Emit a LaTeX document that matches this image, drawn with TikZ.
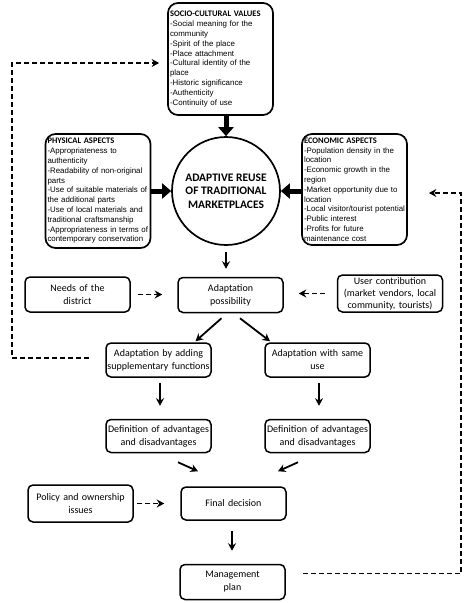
\documentclass[tikz,border=0pt]{standalone}
\usepackage{fontspec}
\setmainfont{Carlito}
\newfontfamily\listfont{Liberation Sans}
\usetikzlibrary{arrows.meta,positioning}
\newcommand\boxhead[1]{{\rmfamily\bfseries\fontsize{8.5}{9.8}\selectfont #1}}

\begin{document}
\begin{tikzpicture}[x=1pt,y=-1pt,
  bigbox/.style={draw,line width=1.7pt,rounded corners=10pt,minimum width=105pt,inner sep=2pt,text width=101pt,align=left,font=\listfont\fontsize{7.9}{9.8}\selectfont},
  stepbox/.style={draw,line width=1.5pt,rounded corners=5pt,minimum width=105pt,minimum height=35pt,inner sep=1pt,text width=103pt,align=center,font=\fontsize{10}{13}\selectfont},
  blockarr/.style={line width=5pt,-{Triangle[length=9pt,width=15pt]}},
  arr/.style={line width=1.8pt,-{Stealth[length=7.5pt,width=8pt]}},
  dasharr/.style={arr,dash pattern=on 5pt off 3pt}]
\useasboundingbox (0,0) rectangle (474,603);
\node[bigbox,minimum height=112pt] (socio) at (220.5,59) {\boxhead{SOCIO-CULTURAL VALUES}\\-Social meaning for the\\community\\-Spirit of the place\\-Place attachment\\-Cultural identity of the\\place\\-Historic significance\\-Authenticity\\-Continuity of use};
\node[bigbox,minimum height=114pt] (phys) at (98,191) {\boxhead{PHYSICAL ASPECTS}\\-Appropriateness to\\authenticity\\-Readability of non-original\\parts\\-Use of suitable materials of\\the additional parts\\-Use of local materials and\\traditional craftsmanship\\-Appropriateness in terms of\\contemporary conservation};
\node[bigbox,minimum height=111pt] (econ) at (354.5,189.5) {\boxhead{ECONOMIC ASPECTS}\\-Population density in the\\location\\-Economic growth in the\\region\\-Market opportunity due to\\location\\-Local visitor/tourist potential\\-Public interest\\-Profits for future\\maintenance cost};
\node[circle,draw,line width=1.7pt,minimum size=108pt,align=center,font=\bfseries\fontsize{11.5}{13.5}\selectfont] (circ) at (226,191) {ADAPTIVE REUSE\\OF TRADITIONAL\\MARKETPLACES};
\node[stepbox] (needs) at (77.5,294.5) {Needs of the\\district};
\node[stepbox] (poss) at (230.5,295) {Adaptation\\possibility};
\node[stepbox,minimum height=37pt,font=\fontsize{10}{12}\selectfont] (user) at (390,293.5) {User contribution\\(market vendors, local\\community, tourists)};
\node[stepbox,minimum height=34pt] (adding) at (158.5,360) {Adaptation by adding\\supplementary functions};
\node[stepbox,minimum height=34pt] (same) at (317.5,360) {Adaptation with same\\use};
\node[stepbox,minimum height=33pt,below=41pt of adding] (defl) {Definition of advantages\\and disadvantages};
\node[stepbox,minimum height=33pt,below=41pt of same] (defr) {Definition of advantages\\and disadvantages};
\node[stepbox,minimum height=37pt] (policy) at (80.5,503.5) {Policy and ownership\\issues};
\node[stepbox,minimum height=33pt] (final) at (233.5,503.5) {Final decision};
\node[stepbox,below=43pt of final,xshift=-1pt] (mgmt) {Management\\plan};
\coordinate (lft) at (12,63);
\coordinate (rgt) at (461,193);
\draw[blockarr] (circ.north |- socio.south) -- (circ.north);
\draw[blockarr] (phys.east) -- (circ.west);
\draw[blockarr] (econ.west |- circ.east) -- (circ.east);
\draw[arr,shorten <=6pt,shorten >=8pt] (circ.south) -- (circ.south |- poss.north);
\draw[dasharr,shorten <=7pt,shorten >=15pt] (needs.east) -- (needs.east -| poss.west);
\draw[dasharr,shorten <=12pt,shorten >=15pt] (user.west) -- (user.west -| poss.east);
\draw[arr] ([xshift=-9pt,yshift=-5pt]poss.south) -- ([xshift=37pt,yshift=1pt]adding.north);
\draw[arr] ([xshift=9.5pt,yshift=-5pt]poss.south) -- ([xshift=-47.5pt,yshift=1pt]same.north);
\draw[arr,shorten <=5pt,shorten >=13pt] ([xshift=1.5pt]adding.south) -- ([xshift=1.5pt]adding.south |- defl.north);
\draw[arr,shorten <=5pt,shorten >=13pt] ([xshift=1.5pt]same.south) -- ([xshift=1.5pt]same.south |- defr.north);
\draw[arr] ([xshift=19.5pt,yshift=-9pt]defl.south) -- ([xshift=-35.5pt,yshift=15pt]final.north);
\draw[arr] ([xshift=-19.5pt,yshift=-9pt]defr.south) -- ([xshift=44.5pt,yshift=15pt]final.north);
\draw[dasharr,shorten <=3pt,shorten >=16pt] (policy.east) -- (policy.east -| final.west);
\draw[arr,shorten <=10pt,shorten >=13pt] ([xshift=-1.5pt]final.south) -- ([xshift=-1.5pt]final.south |- mgmt.north);
\draw[dasharr,shorten >=8pt] ([xshift=-16pt,yshift=2pt]adding.west) -| (lft) -- (lft -| socio.west);
\draw[dasharr,shorten >=21pt] ([xshift=17pt,yshift=8.5pt]mgmt.east) -| (rgt) -- (rgt -| econ.east);
\end{tikzpicture}
\end{document}
